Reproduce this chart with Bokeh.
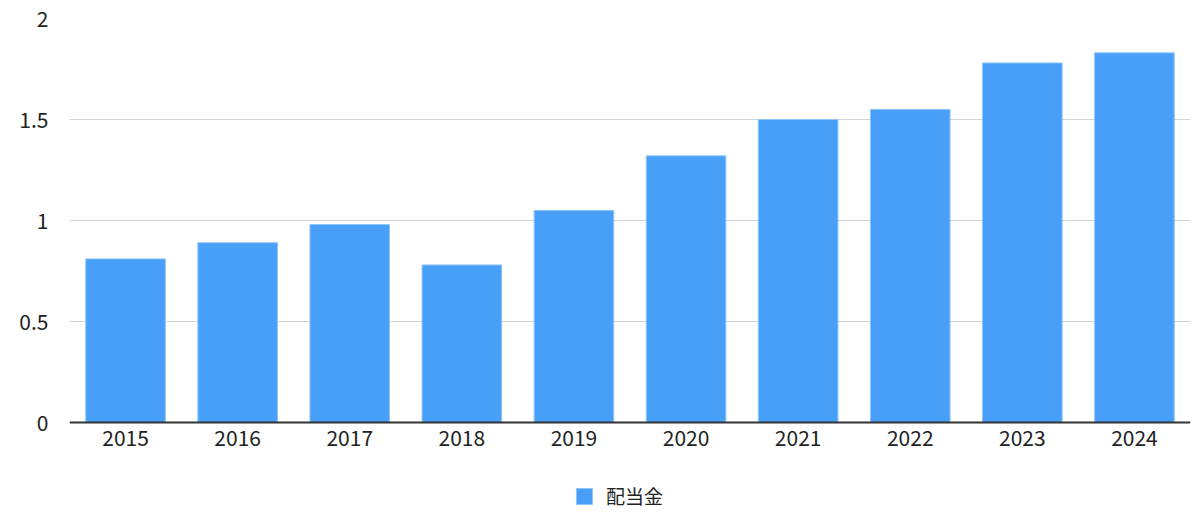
from bokeh.plotting import figure
from bokeh.models import Legend, LegendItem, FixedTicker, Range1d
from bokeh.embed import file_html
from bokeh.resources import INLINE

years = ["2015", "2016", "2017", "2018", "2019", "2020", "2021", "2022", "2023", "2024"]
dividends = [0.81, 0.89, 0.98, 0.78, 1.05, 1.32, 1.50, 1.55, 1.78, 1.83]
series_name = "配当金"
y_ticks = [0, 0.5, 1, 1.5, 2]
y_tick_labels = {0: "0", 0.5: "0.5", 1: "1", 1.5: "1.5", 2: "2"}

FONT = "Noto Sans CJK JP"

# frame spans from the top gridline down to the bottom of the window,
# with the value axis occupying the top 404 px of it
FRAME_H = 498
DATA_H = 404
y_top = 2
y_bottom = -y_top * (FRAME_H - DATA_H) / DATA_H

p = figure(x_range=years, frame_width=1121, frame_height=FRAME_H, output_backend="svg",
           toolbar_location=None, min_border_left=69, min_border_right=10,
           min_border_top=18, min_border_bottom=0)
p.y_range = Range1d(y_bottom, y_top)
p.x_range.range_padding = 0

r = p.vbar(x=years, top=dividends, width=0.71, fill_color="#479ff8",
           line_color="#8fc5fb", line_width=1)

p.outline_line_color = None
p.background_fill_color = "white"
p.border_fill_color = "white"

p.xgrid.grid_line_color = None
p.ygrid.grid_line_color = "#d4d4d4"
p.ygrid.grid_line_width = 1
p.ygrid.ticker = FixedTicker(ticks=y_ticks)

p.yaxis.ticker = FixedTicker(ticks=y_ticks)
p.yaxis.major_label_overrides = y_tick_labels
p.yaxis.axis_line_color = None
p.yaxis.major_tick_line_color = None
p.yaxis.minor_tick_line_color = None
p.yaxis.major_tick_out = 0
p.yaxis.major_label_standoff = 21
p.yaxis.major_label_text_font = FONT
p.yaxis.major_label_text_font_size = "21px"
p.yaxis.major_label_text_color = "#222222"

p.xaxis.fixed_location = 0
p.xaxis.axis_line_color = "#333333"
p.xaxis.axis_line_width = 2
p.xaxis.major_tick_line_color = None
p.xaxis.major_tick_out = 0
p.xaxis.major_label_standoff = 7
p.xaxis.major_label_text_font = FONT
p.xaxis.major_label_text_font_size = "21px"
p.xaxis.major_label_text_color = "#222222"

legend = Legend(items=[LegendItem(label=series_name, renderers=[r])],
                location=(505, 7), orientation="horizontal",
                glyph_width=20, glyph_height=20, label_standoff=12,
                label_text_font=FONT, label_text_font_size="19px",
                label_text_color="#222222", border_line_color=None,
                background_fill_alpha=0, margin=0, padding=0)
p.add_layout(legend)

open("out.html", "w").write(file_html(p, INLINE))
